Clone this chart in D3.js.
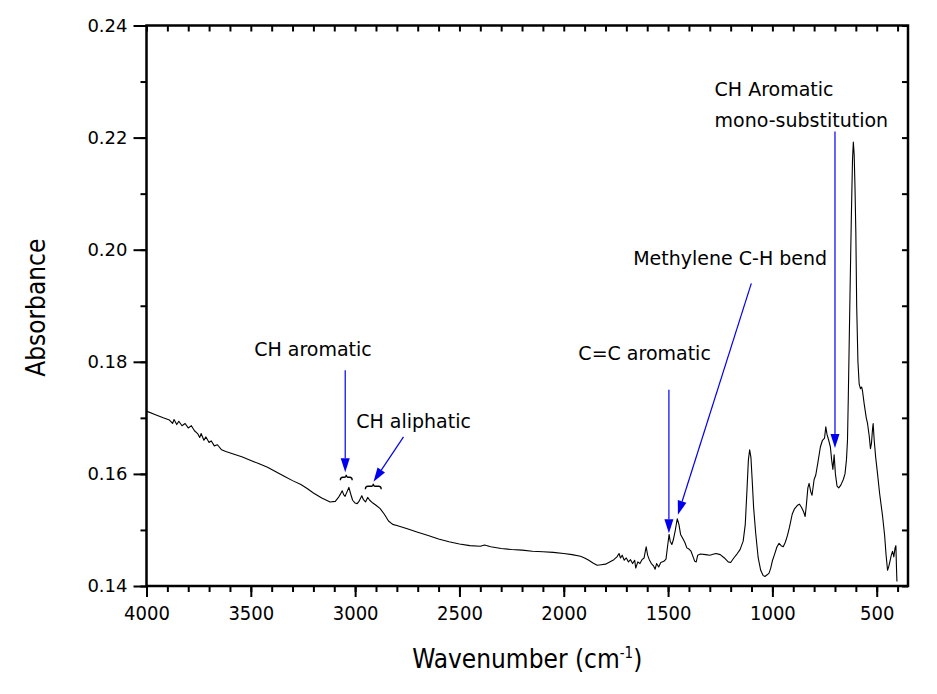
<!DOCTYPE html>
<html><head><meta charset="utf-8">
<script src="https://cdn.jsdelivr.net/npm/d3@7"></script>
<style>body{margin:0;background:#fff}svg{display:block}</style>
</head><body>
<script>
const wavenumber = [4000,3960,3920,3890,3875,3868,3855,3845,3830,3815,3800,3785,3770,3755,3745,3738,3725,3715,3700,3690,3675,3660,3640,3620,3580,3540,3500,3460,3420,3380,3340,3300,3260,3230,3200,3160,3120,3095,3080,3072,3062,3055,3048,3040,3030,3022,3012,3000,2990,2980,2968,2960,2950,2940,2930,2915,2900,2880,2860,2840,2820,2800,2750,2700,2650,2600,2550,2500,2450,2400,2380,2350,2300,2250,2200,2150,2100,2050,2000,1960,1920,1900,1880,1860,1840,1820,1800,1780,1760,1745,1735,1728,1720,1710,1700,1690,1680,1670,1660,1655,1645,1635,1625,1615,1605,1598,1590,1580,1570,1562,1555,1545,1535,1520,1510,1500,1495,1490,1482,1475,1465,1456,1448,1440,1430,1420,1410,1400,1390,1380,1372,1365,1358,1345,1320,1300,1280,1270,1250,1230,1212,1200,1185,1170,1155,1140,1130,1122,1115,1109,1103,1097,1090,1080,1068,1056,1045,1036,1025,1016,1008,1000,990,978,968,958,948,938,928,918,905,895,880,870,860,850,843,837,830,824,816,810,800,792,782,770,760,750,744,738,730,722,716,710,704,698,690,682,672,660,652,645,640,636,632,628,622,616,612,608,604,600,596,590,584,578,572,568,560,550,544,536,530,525,520,517,512,505,496,486,472,462,455,448,442,436,430,424,418,412,408,405,403];
const absorbance = [0.1712,0.1706,0.1700,0.1696,0.1690,0.1697,0.1688,0.1694,0.1686,0.1690,0.1682,0.1686,0.1677,0.1672,0.1665,0.1672,0.1660,0.1666,0.1656,0.1659,0.1650,0.1652,0.1643,0.1640,0.1635,0.1630,0.1624,0.1618,0.1612,0.1604,0.1596,0.1588,0.1581,0.1574,0.1566,0.1557,0.1550,0.1551,0.1558,0.1563,0.1570,0.1563,0.1560,0.1567,0.1576,0.1565,0.1553,0.1548,0.1547,0.1552,0.1561,0.1554,0.1550,0.1558,0.1553,0.1548,0.1544,0.1538,0.1528,0.1516,0.1510,0.1508,0.1502,0.1496,0.1490,0.1484,0.1479,0.1475,0.1472,0.1471,0.1473,0.1470,0.1467,0.1465,0.1464,0.1462,0.1461,0.1460,0.1458,0.1456,0.1453,0.1450,0.1446,0.1441,0.1437,0.1438,0.1439,0.1443,0.1447,0.1452,0.1458,0.1450,0.1455,0.1446,0.1450,0.1443,0.1447,0.1440,0.1446,0.1432,0.1443,0.1440,0.1447,0.1450,0.1470,0.1455,0.1447,0.1440,0.1436,0.1430,0.1440,0.1434,0.1442,0.1444,0.1448,0.1478,0.1492,0.1480,0.1474,0.1482,0.1500,0.1520,0.1510,0.1492,0.1485,0.1478,0.1468,0.1466,0.1462,0.1452,0.1444,0.1443,0.1455,0.1457,0.1456,0.1455,0.1457,0.1458,0.1456,0.1450,0.1443,0.1442,0.1450,0.1457,0.1465,0.1480,0.1510,0.1570,0.1625,0.1643,0.1630,0.1590,0.1540,0.1494,0.1450,0.1428,0.1419,0.1417,0.1420,0.1423,0.1432,0.1445,0.1456,0.1470,0.1476,0.1472,0.1470,0.1478,0.1490,0.1505,0.1528,0.1537,0.1544,0.1546,0.1540,0.1532,0.1524,0.1545,0.1575,0.1583,0.1568,0.1562,0.1590,0.1598,0.1620,0.1648,0.1660,0.1664,0.1684,0.1670,0.1660,0.1648,0.1625,0.1608,0.1634,0.1600,0.1578,0.1575,0.1580,0.1590,0.1600,0.1625,0.1660,0.1740,0.1830,0.1920,0.2050,0.2160,0.2192,0.2170,0.2110,0.2030,0.1900,0.1800,0.1760,0.1752,0.1755,0.1748,0.1725,0.1700,0.1690,0.1668,0.1645,0.1655,0.1680,0.1690,0.1660,0.1630,0.1600,0.1565,0.1525,0.1490,0.1455,0.1428,0.1435,0.1445,0.1455,0.1462,0.1452,0.1468,0.1472,0.1430,0.1408];

const xTicks = [4000,3500,3000,2500,2000,1500,1000,500];
const yTicks = [0.14,0.16,0.18,0.20,0.22,0.24];
const xDomain = [4000,350];
const yDomain = [0.14,0.24];

const annLabels = [
  {lines:["CH aromatic"], wn:3484, a:0.1810},
  {lines:["CH aliphatic"], wn:2995, a:0.1682},
  {lines:["C=C aromatic"], wn:1930, a:0.1803},
  {lines:["Methylene C-H bend"], wn:1667, a:0.1973},
  {lines:["CH Aromatic","mono-substitution"], wn:1277, a:0.2274}
];
const arrows = [
  {from:[3047.5,0.1785], to:[3047.5,0.1603]},
  {from:[2768,0.1666], to:[2912,0.1586]},
  {from:[1496,0.1750], to:[1496,0.1494]},
  {from:[1101,0.1940], to:[1453,0.1527]},
  {from:[700,0.2211], to:[700,0.1646]}
];
const braces = [
  {from:3071, to:3014, a:0.1594},
  {from:2951, to:2875, a:0.1578}
];

const W = 937, H = 694;
const m = {left:146.5, right:W-908, top:25.5, bottom:H-586};
const svg = d3.select("body").append("svg").attr("width",W).attr("height",H);
const x = d3.scaleLinear().domain(xDomain).range([m.left, W-m.right]);
const y = d3.scaleLinear().domain(yDomain).range([H-m.bottom, m.top]);

const minorX = d3.range(4000, 349, -100);
const minorY = d3.range(0, 11).map(i => 0.14 + i*0.01);

const data = wavenumber.map((w,i)=>[w, absorbance[i]]);
svg.append("path").datum(data)
  .attr("fill","none").attr("stroke","#000").attr("stroke-width",1.1)
  .attr("stroke-linejoin","round")
  .attr("d", d3.line().x(d=>x(d[0])).y(d=>y(d[1])));

const fontY = "'DejaVu Sans', sans-serif";
const fontX = "'DejaVu Sans Condensed', 'DejaVu Sans', sans-serif";

function styleAxis(g){
  g.select(".domain").remove();
  g.selectAll("line").attr("stroke","#000").attr("stroke-width",2);
}
svg.append("g").attr("transform",`translate(0,${H-m.bottom})`)
  .call(d3.axisBottom(x).tickValues(minorX).tickSize(6).tickFormat(""))
  .call(styleAxis);
const gx = svg.append("g").attr("transform",`translate(0,${H-m.bottom})`)
  .call(d3.axisBottom(x).tickValues(xTicks).tickSize(11).tickPadding(9).tickFormat(d3.format("d")))
  .call(styleAxis);
gx.selectAll("text").attr("font-family",fontX).attr("font-size",20).attr("fill","#000")
  .attr("font-stretch","condensed");
svg.append("g").attr("transform",`translate(0,${m.top})`)
  .call(d3.axisBottom(x).tickValues(minorX).tickSize(6).tickFormat(""))
  .call(styleAxis);
svg.append("g").attr("transform",`translate(${m.left},0)`)
  .call(d3.axisLeft(y).tickValues(minorY).tickSize(6).tickFormat(""))
  .call(styleAxis);
const gy = svg.append("g").attr("transform",`translate(${m.left},0)`)
  .call(d3.axisLeft(y).tickValues(yTicks).tickSize(13).tickPadding(6).tickFormat(d3.format(".2f")))
  .call(styleAxis);
gy.selectAll("text").attr("font-family",fontY).attr("font-size",18).attr("fill","#000");
svg.append("g").attr("transform",`translate(${W-m.right},0)`)
  .call(d3.axisRight(y).tickValues(minorY).tickSize(-6).tickFormat(""))
  .call(styleAxis);

svg.append("rect").attr("x",m.left).attr("y",m.top)
  .attr("width",W-m.left-m.right).attr("height",H-m.top-m.bottom)
  .attr("fill","none").attr("stroke","#000").attr("stroke-width",2.5);

const xt = svg.append("text").attr("x",(m.left+W-m.right)/2).attr("y",668)
  .attr("text-anchor","middle").attr("font-family",fontX).attr("font-size",26).attr("fill","#000");
xt.append("tspan").text("Wavenumber (cm");
xt.append("tspan").attr("dy",-10).attr("font-size",15).text("-1");
xt.append("tspan").attr("dy",10).text(")");
svg.append("text").attr("transform",`translate(45,${(m.top+H-m.bottom)/2 + 2}) rotate(-90)`)
  .attr("text-anchor","middle").attr("font-family",fontX).attr("font-size",26).attr("fill","#000")
  .text("Absorbance");

const blue = "#0000ee";
annLabels.forEach(l=>{
  const t = svg.append("text").attr("x",x(l.wn)).attr("y",y(l.a))
    .attr("font-family",fontY).attr("font-size",19).attr("fill","#000");
  l.lines.forEach((s,i)=>{
    t.append("tspan").attr("x",x(l.wn)).attr("dy", i===0?0:31).text(s);
  });
});
arrows.forEach(a=>{
  const x1=x(a.from[0]), y1=y(a.from[1]), x2=x(a.to[0]), y2=y(a.to[1]);
  const dx=x2-x1, dy=y2-y1, len=Math.hypot(dx,dy), ux=dx/len, uy=dy/len;
  const hl=14, hw=4.5;
  const bx=x2-ux*hl, by=y2-uy*hl;
  svg.append("line").attr("x1",x1).attr("y1",y1).attr("x2",bx).attr("y2",by)
    .attr("stroke",blue).attr("stroke-width",1.2);
  svg.append("path").attr("d",`M${x2},${y2}L${bx-uy*hw},${by+ux*hw}L${bx+uy*hw},${by-ux*hw}Z`)
    .attr("fill",blue);
});
braces.forEach(b=>{
  const x0=x(b.from), x1=x(b.to), yy=y(b.a), xm=(x0+x1)/2;
  svg.append("path")
    .attr("d",`M${x0},${yy+3}Q${x0},${yy} ${x0+2.5},${yy}L${xm-2},${yy}Q${xm},${yy} ${xm},${yy-2.5}Q${xm},${yy} ${xm+2},${yy}L${x1-2.5},${yy}Q${x1},${yy} ${x1},${yy+3}`)
    .attr("fill","none").attr("stroke","#000").attr("stroke-width",1.3);
});
</script>
</body></html>
